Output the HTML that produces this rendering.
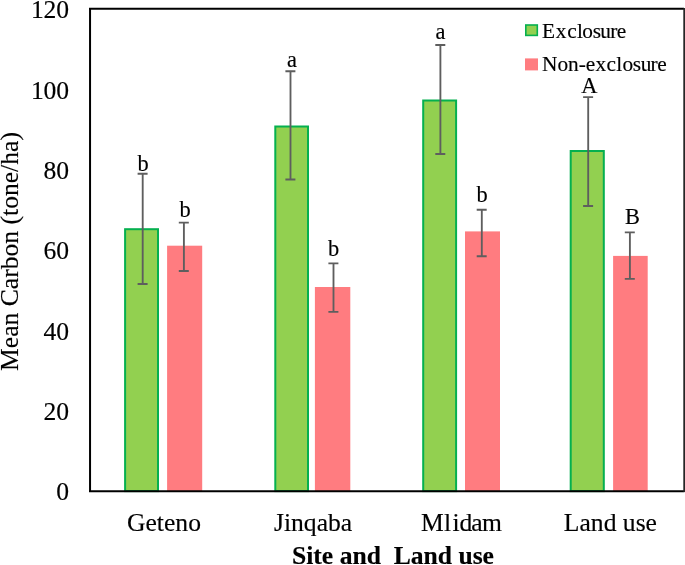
<!DOCTYPE html>
<html><head><meta charset="utf-8"><title>Mean Carbon</title>
<style>html,body{margin:0;padding:0;background:#fff}svg{display:block}text{font-family:"Liberation Serif","Times New Roman",serif;fill:#000;stroke:#000;stroke-width:.16px}</style></head>
<body>
<svg width="685" height="565" viewBox="0 0 685 565">
<rect width="685" height="565" fill="#fff"/>
<rect x="125.1" y="229.2" width="32.9" height="261.9" fill="#92d050" stroke="#05b04f" stroke-width="2"/>
<rect x="275.3" y="126.5" width="32.7" height="364.6" fill="#92d050" stroke="#05b04f" stroke-width="2"/>
<rect x="423.2" y="100.5" width="32.9" height="390.6" fill="#92d050" stroke="#05b04f" stroke-width="2"/>
<rect x="570.7" y="151.0" width="33.1" height="340.1" fill="#92d050" stroke="#05b04f" stroke-width="2"/>
<rect x="167.1" y="245.7" width="35.1" height="245.4" fill="#ff7c80"/>
<rect x="314.9" y="287.0" width="35.4" height="204.1" fill="#ff7c80"/>
<rect x="465.0" y="231.4" width="35.0" height="259.7" fill="#ff7c80"/>
<rect x="613.1" y="255.9" width="34.6" height="235.2" fill="#ff7c80"/>
<path d="M90.05 492V7.9" stroke="#000" stroke-width="2" fill="none"/>
<path d="M89.05 8.7H684" stroke="#000" stroke-width="1.85" fill="none"/>
<path d="M89.05 491.2H684.5" stroke="#000" stroke-width="2.1" fill="none"/>
<rect x="683.3" y="8" width="1.7" height="484" fill="#262626"/>
<path d="M142.7 173.7V284.0M137.6 173.7h10M137.6 284.0h10" stroke="#5e5e5e" stroke-width="1.85" fill="none"/>
<path d="M183.9 222.6V271.0M178.8 222.6h10M178.8 271.0h10" stroke="#5e5e5e" stroke-width="1.85" fill="none"/>
<path d="M290.5 71.2V179.5M285.4 71.2h10M285.4 179.5h10" stroke="#5e5e5e" stroke-width="1.85" fill="none"/>
<path d="M333.5 263.4V311.9M328.4 263.4h10M328.4 311.9h10" stroke="#5e5e5e" stroke-width="1.85" fill="none"/>
<path d="M440.4 45.0V154.0M435.3 45.0h10M435.3 154.0h10" stroke="#5e5e5e" stroke-width="1.85" fill="none"/>
<path d="M481.8 209.7V256.3M476.7 209.7h10M476.7 256.3h10" stroke="#5e5e5e" stroke-width="1.85" fill="none"/>
<path d="M588.2 97.1V206.0M583.1 97.1h10M583.1 206.0h10" stroke="#5e5e5e" stroke-width="1.85" fill="none"/>
<path d="M629.9 232.4V278.9M624.8 232.4h10M624.8 278.9h10" stroke="#5e5e5e" stroke-width="1.85" fill="none"/>
<text x="143.1" y="170.8" font-size="22.4" text-anchor="middle">b</text>
<text x="185.0" y="217.4" font-size="22.4" text-anchor="middle">b</text>
<text x="292.0" y="67.0" font-size="22.4" text-anchor="middle">a</text>
<text x="333.7" y="256.1" font-size="22.4" text-anchor="middle">b</text>
<text x="440.4" y="38.5" font-size="22.4" text-anchor="middle">a</text>
<text x="482.2" y="201.7" font-size="22.4" text-anchor="middle">b</text>
<text x="589.4" y="93.0" font-size="22.4" text-anchor="middle">A</text>
<text x="632.5" y="223.6" font-size="22.4" text-anchor="middle">B</text>
<text x="68.7" y="500.2" font-size="25.6" letter-spacing="-0.25" text-anchor="end">0</text>
<text x="68.7" y="419.9" font-size="25.6" letter-spacing="-0.25" text-anchor="end">20</text>
<text x="68.7" y="339.6" font-size="25.6" letter-spacing="-0.25" text-anchor="end">40</text>
<text x="68.7" y="259.2" font-size="25.6" letter-spacing="-0.25" text-anchor="end">60</text>
<text x="68.7" y="178.9" font-size="25.6" letter-spacing="-0.25" text-anchor="end">80</text>
<text x="68.7" y="98.5" font-size="25.6" letter-spacing="-0.25" text-anchor="end">100</text>
<text x="68.7" y="18.2" font-size="25.6" letter-spacing="-0.25" text-anchor="end">120</text>
<text x="164" y="530.6" font-size="25.6" text-anchor="middle">Geteno</text>
<text x="313.1" y="530.6" font-size="25.6" text-anchor="middle">Jinqaba</text>
<text x="461.4" y="530.6" font-size="25.6" text-anchor="middle" dx="0 .4 1.2 0 -1 -.7">Mlidam</text>
<text x="610.4" y="530.6" font-size="25.6" text-anchor="middle">Land use</text>
<text x="393" y="564.0" font-size="25.6" font-weight="bold" text-anchor="middle" xml:space="preserve" style="white-space:pre">Site and  Land use</text>
<text transform="translate(18.2,251.5) rotate(-90)" font-size="25.6" text-anchor="middle">Mean Carbon (tone/ha)</text>
<rect x="525.8" y="25" width="11.5" height="10.4" fill="#92d050" stroke="#05b04f" stroke-width="1.6"/>
<rect x="525" y="58.4" width="13" height="12" fill="#ff7c80"/>
<text x="542" y="37.7" font-size="21.3" dx="0 .7 .8 .3 -.6 -.1 -.9 -.6 -.7">Exclosure</text>
<text x="542" y="71.2" font-size="21.3" dx="0 0 0 0 0 .3 .3 .3 .2 -.2 -.3 -1 -.3">Non-exclosure</text>
</svg></body></html>
